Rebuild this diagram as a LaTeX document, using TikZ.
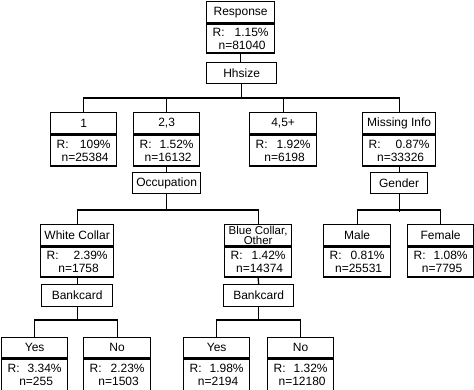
\documentclass[tikz,border=0pt]{standalone}
\usepackage{fontspec}
\setmainfont{Liberation Sans}
\tikzset{
  box/.style={draw, line width=1.3pt, inner sep=0pt, fill=white},
  link/.style={draw, line width=1.3pt},
}
% \treebox{name}{x}{y}{width}{header h}{data h}{header}{R}{n}
\newcommand{\treebox}[9]{%
  \node[box, minimum width=#4pt, minimum height=#5pt, anchor=north west,
        font=\fontsize{12}{13}\selectfont, align=center] (#1) at (#2,#3) {#7};
  \node[box, minimum width=#4pt, minimum height=#6pt, anchor=north,
        font=\fontsize{12}{13}\selectfont, align=center] (#1d) at (#1.south)
        {\makebox[\dimexpr#4pt-12pt\relax]{R:\hfill #8}\\\hspace*{3pt}n=#9};%
}
% \splitbox{name}{x}{y}{width}{height}{text}
\newcommand{\splitbox}[6]{%
  \node[box, minimum width=#4pt, minimum height=#5pt, anchor=north west,
        font=\fontsize{12}{13}\selectfont] (#1) at (#2,#3) {#6};%
}
\begin{document}
\begin{tikzpicture}[x=1pt,y=-1pt]
\useasboundingbox (0,0) rectangle (474,389);
% nodes
\treebox{resp}{206}{1}{68}{21}{29}{Response}{1.15\%}{81040}
\splitbox{hh}{206}{62}{70}{21}{Hhsize}
\treebox{bone}{50}{112}{66}{21}{31}{1}{109\%}{25384}
\treebox{btwo}{133}{112}{66}{21}{31}{2,3}{1.52\%}{16132}
\treebox{bfour}{249}{112}{67}{21}{31}{4,5+}{1.92\%}{6198}
\treebox{bmi}{362}{112}{73}{21}{31}{Missing Info}{0.87\%}{33326}
\splitbox{occ}{132}{172}{68}{21}{Occupation}
\splitbox{gen}{370}{172}{57}{21}{Gender}
\treebox{wc}{40}{224}{73}{21}{30}{White Collar}{2.39\%}{1758}
\node[box, minimum width=67pt, minimum height=21pt, anchor=north west,
      font=\fontsize{11.5}{10.5}\selectfont, align=center] (bc) at (224,224) {Blue Collar,\\Other};
\node[box, minimum width=67pt, minimum height=30pt, anchor=north,
      font=\fontsize{12}{13}\selectfont, align=center] (bcd) at (bc.south)
      {\makebox[55pt]{R:\hfill 1.42\%}\\\hspace*{3pt}n=14374};
\treebox{male}{323}{224}{67}{21}{30}{Male}{0.81\%}{25531}
\treebox{fem}{407}{224}{66}{21}{30}{Female}{1.08\%}{7795}
\splitbox{bkone}{41}{284}{71}{22}{Bankcard}
\splitbox{bktwo}{223}{284}{70}{22}{Bankcard}
\treebox{yone}{1}{337}{66}{20}{32}{Yes}{3.34\%}{255}
\treebox{none}{83}{337}{67}{20}{32}{No}{2.23\%}{1503}
\treebox{ytwo}{183}{337}{66}{20}{32}{Yes}{1.98\%}{2194}
\treebox{ntwo}{267}{337}{66}{20}{32}{No}{1.32\%}{12180}
% connectors
\draw[link] (respd.south) -- (respd.south |- hh.north);
\draw[link] (hh.south) -- ++(0,15);
\draw[link] (bone.north) -- ++(0,-14) -| (bmi.north);
\draw[link] (btwo.north) -- ++(0,-14);
\draw[link] (bfour.north) -- ++(0,-14);
\draw[link] (btwod.south) -- (occ.north);
\draw[link] (bmid.south) -- (gen.north);
\draw[link] (occ.south) -- ++(0,17);
\draw[link] (wc.north) -- ++(0,-14) -| (bc.north);
\draw[link] (gen.south) -- ++(0,18);
\draw[link] (male.north) -- ++(0,-14) -| (fem.north);
\draw[link] (wcd.south) -- (bkone.north);
\draw[link] (bcd.south) -- (bktwo.north);
\draw[link] (bkone.south) -- ++(0,14);
\draw[link] (yone.north) -- ++(0,-17) -| (none.north);
\draw[link] (bktwo.south) -- ++(0,14);
\draw[link] (ytwo.north) -- ++(0,-17) -| (ntwo.north);
\end{tikzpicture}
\end{document}
